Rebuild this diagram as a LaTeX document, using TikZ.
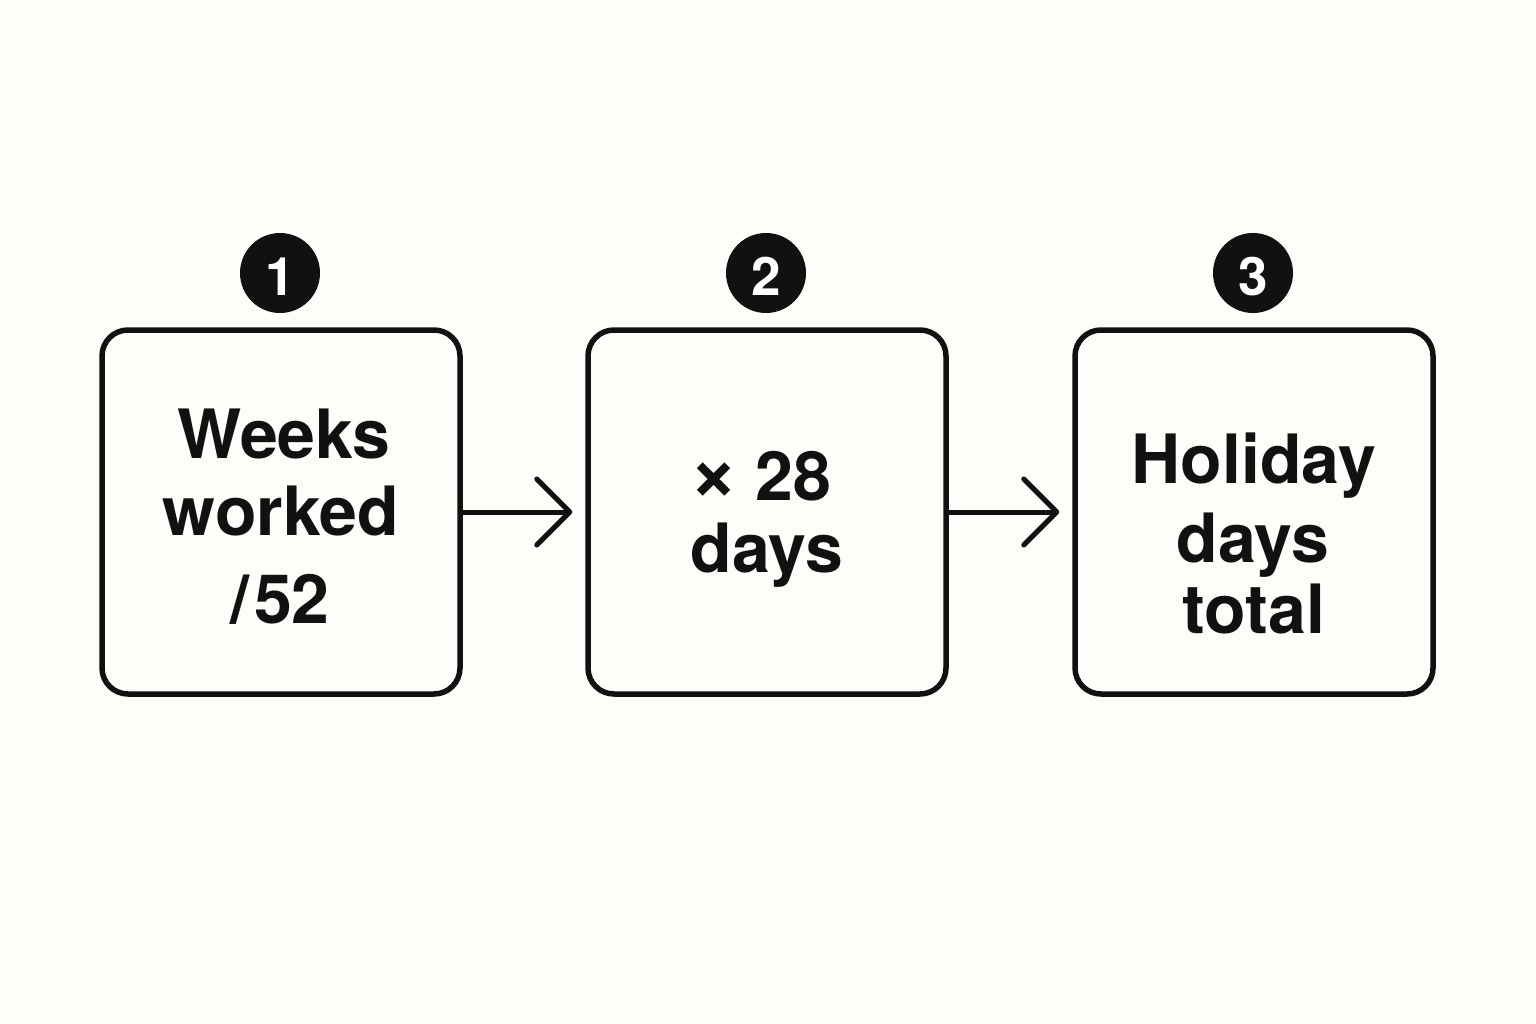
\documentclass[tikz,border=0pt]{standalone}
\usepackage{fontspec}
\setmainfont{TeX Gyre Heros}
\usetikzlibrary{arrows.meta}
\definecolor{bg}{HTML}{FDFDFA}
\definecolor{ink}{HTML}{111111}
\tikzset{
  stepbox/.style={draw=ink, line width=5.5pt, rounded corners=26pt, minimum width=358pt, minimum height=364pt, inner sep=0pt},
  badge/.style={circle, fill=ink, minimum size=80pt, inner sep=0pt},
  badgenum/.style={anchor=base, text=white, font=\bfseries\fontsize{53}{60}\selectfont, inner sep=0pt},
  boxtext/.style={anchor=base, text=ink, font=\bfseries\fontsize{68}{78}\selectfont, inner sep=0pt},
  flow/.style={draw=ink, line width=5pt, -{Straight Barb[length=33pt,width=66pt,round]}, shorten >=13pt}
}
\begin{document}
\begin{tikzpicture}[x=1pt,y=-1pt]
\useasboundingbox (0,0) rectangle (1536,1024);
\fill[bg] (0,0) rectangle (1536,1024);

\node[stepbox] (b1) at (281,512) {};
\node[stepbox] (b2) at (767,512) {};
\node[stepbox] (b3) at (1254,512) {};

\node[badge] (c1) at (280,273) {};
\node[badge] (c2) at (766,273) {};
\node[badge] (c3) at (1253,273) {};
\node[badgenum] (n1) at (280,295) {1};
\node[badgenum] (n2) at (766,295) {2};
\node[badgenum] (n3) at (1253,295) {3};

\node[boxtext] (t1a) at (284,458) {Weeks};
\node[boxtext] (t1b) at (281,535) {worked};
\node[boxtext] (t1c) at (280,623) {/\kern5pt52};

\node[boxtext] (t2a) at (760,500) {{\fontsize{84}{80}\selectfont ×}\kern17pt28};
\node[boxtext] (t2b) at (767,572) {days};

\node[boxtext] (t3a) at (1254,483) {Holiday};
\node[boxtext] (t3b) at (1253,562) {days};
\node[boxtext] (t3c) at (1254,633) {total};

\draw[flow] (b1.east) -- (b2.west);
\draw[flow] (b2.east) -- (b3.west);
\end{tikzpicture}
\end{document}
